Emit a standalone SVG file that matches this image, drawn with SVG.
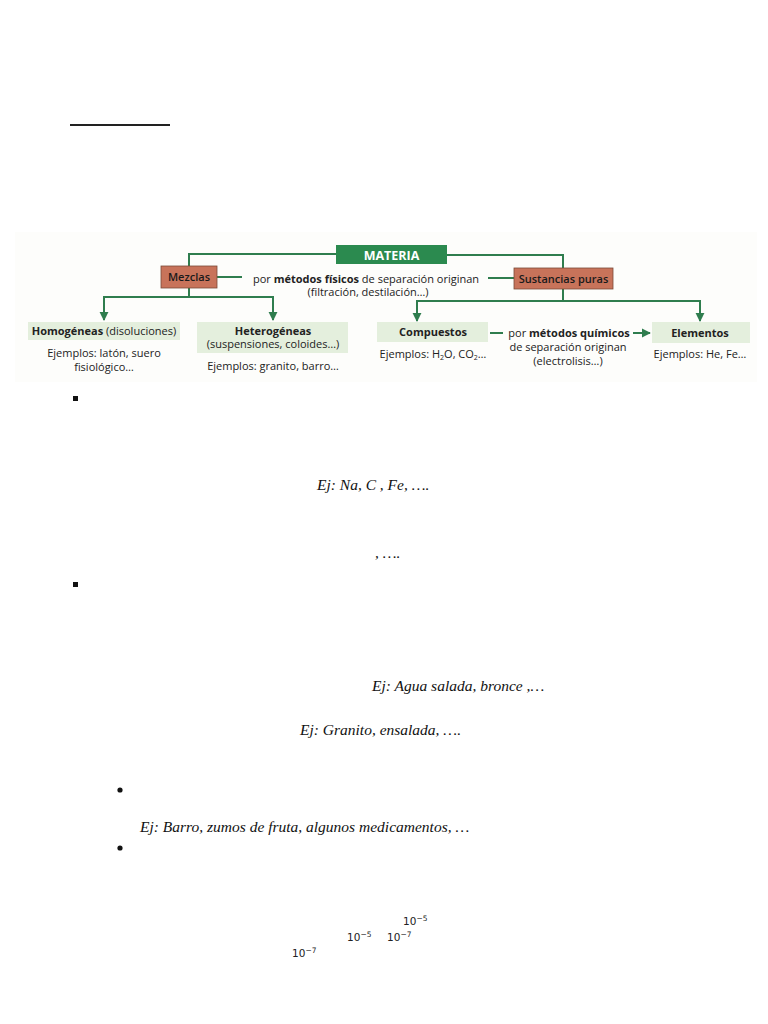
<svg xmlns="http://www.w3.org/2000/svg" width="768" height="1024" viewBox="0 0 768 1024">
<defs>
<style>
.doc{font-family:"Liberation Serif","Times New Roman",serif;font-style:italic;font-size:15.5px;fill:#111}
.d{font-family:"Open Sans","Noto Sans","Liberation Sans",sans-serif;font-size:11px;fill:#222;text-anchor:middle}
.b{font-weight:bold}
.sb{font-weight:600;fill:#1a1a1a}
.ln{stroke:#2f7d4e;stroke-width:2;fill:none}
.lite{fill:#e4efdd}
.brown{fill:#c8735a;stroke:#7a4a38;stroke-width:0.8}
.math{font-family:"DejaVu Sans","Liberation Sans",sans-serif;font-size:10.5px;fill:#222}
.sup{font-size:7.5px}
</style>
<marker id="ah" viewBox="0 0 10 10" refX="9" refY="5" markerWidth="4.5" markerHeight="5" orient="auto" markerUnits="strokeWidth">
<path d="M0,0 L10,5 L0,10 Z" fill="#2f7d4e"/>
</marker>
</defs>
<rect width="768" height="1024" fill="#ffffff"/>
<rect x="15" y="232" width="742" height="150" fill="#fdfdfb"/>
<line x1="70" y1="125" x2="170" y2="125" stroke="#222" stroke-width="2"/>

<g id="connectors">
<polyline class="ln" points="336,254 189,254 189,266"/>
<polyline class="ln" points="447,255 563,255 563,268"/>
<line class="ln" x1="217" y1="277" x2="242" y2="277"/>
<line class="ln" x1="488" y1="278" x2="514" y2="278"/>
<line class="ln" x1="189" y1="288" x2="189" y2="297"/>
<line class="ln" x1="104" y1="297" x2="273" y2="297"/>
<line class="ln" x1="104" y1="296" x2="104" y2="320" marker-end="url(#ah)"/>
<line class="ln" x1="273" y1="296" x2="273" y2="320" marker-end="url(#ah)"/>
<line class="ln" x1="563" y1="289" x2="563" y2="301"/>
<line class="ln" x1="417" y1="301" x2="700" y2="301"/>
<line class="ln" x1="417" y1="300" x2="417" y2="321" marker-end="url(#ah)"/>
<line class="ln" x1="700" y1="300" x2="700" y2="321" marker-end="url(#ah)"/>
<line class="ln" x1="490" y1="333" x2="503" y2="333"/>
<line class="ln" x1="633" y1="333" x2="650" y2="333" marker-end="url(#ah)"/>
</g>

<g id="materia">
<rect x="336" y="245" width="111" height="19" fill="#2b8a4f"/>
<text x="391.5" y="259.5" class="d b" style="fill:#fff;font-size:12.5px">MATERIA</text>
</g>

<g id="mezclas">
<rect class="brown" x="161" y="266" width="56" height="22"/>
<text x="189" y="281" class="d sb">Mezclas</text>
</g>

<g id="fisicos">
<text x="366" y="283" class="d"><tspan>por </tspan><tspan class="b">métodos físicos</tspan><tspan> de separación originan</tspan></text>
<text x="368" y="296" class="d">(filtración, destilación…)</text>
</g>

<g id="sustancias">
<rect class="brown" x="514" y="268" width="99" height="21"/>
<text x="563.5" y="282.5" class="d sb">Sustancias puras</text>
</g>

<g id="homogeneas">
<rect class="lite" x="28" y="322" width="152" height="18"/>
<text x="104" y="335" class="d"><tspan class="b">Homogéneas</tspan> (disoluciones)</text>
<text x="104" y="357" class="d">Ejemplos: latón, suero</text>
<text x="104" y="371" class="d">fisiológico…</text>
</g>

<g id="heterogeneas">
<rect class="lite" x="197" y="322" width="151" height="31"/>
<text x="273" y="335" class="d b">Heterogéneas</text>
<text x="273" y="348" class="d">(suspensiones, coloides…)</text>
<text x="273" y="370" class="d">Ejemplos: granito, barro…</text>
</g>

<g id="compuestos">
<rect class="lite" x="377" y="322" width="111" height="20"/>
<text x="433" y="336" class="d b">Compuestos</text>
<text x="433" y="358" class="d">Ejemplos: H<tspan dy="2" style="font-size:7px">2</tspan><tspan dy="-2">O, CO</tspan><tspan dy="2" style="font-size:7px">2</tspan><tspan dy="-2">…</tspan></text>
</g>

<g id="quimicos">
<text x="569" y="337" class="d"><tspan>por </tspan><tspan class="b">métodos químicos</tspan></text>
<text x="568" y="351" class="d">de separación originan</text>
<text x="568" y="365" class="d">(electrolisis…)</text>
</g>

<g id="elementos">
<rect class="lite" x="652" y="322" width="98" height="21"/>
<text x="700" y="337" class="d b">Elementos</text>
<text x="700" y="358" class="d">Ejemplos: He, Fe…</text>
</g>

<rect x="73" y="396" width="5" height="5" fill="#111"/>
<text x="317" y="490" class="doc">Ej: Na, C , Fe, ….</text>
<text x="375" y="558" class="doc">, ….</text>
<rect x="73" y="582" width="5" height="5" fill="#111"/>
<text x="372" y="691" class="doc">Ej: Agua salada, bronce ,…</text>
<text x="300" y="735" class="doc">Ej: Granito, ensalada, ….</text>
<circle cx="120" cy="790" r="2.6" fill="#111"/>
<text x="140" y="832" class="doc">Ej: Barro, zumos de fruta, algunos medicamentos, …</text>
<circle cx="120" cy="848" r="2.6" fill="#111"/>

<text x="403" y="925" class="math">10<tspan class="sup" dy="-4">−5</tspan></text>
<text x="347" y="941" class="math">10<tspan class="sup" dy="-4">−5</tspan></text>
<text x="387" y="941" class="math">10<tspan class="sup" dy="-4">−7</tspan></text>
<text x="292" y="957" class="math">10<tspan class="sup" dy="-4">−7</tspan></text>
</svg>
